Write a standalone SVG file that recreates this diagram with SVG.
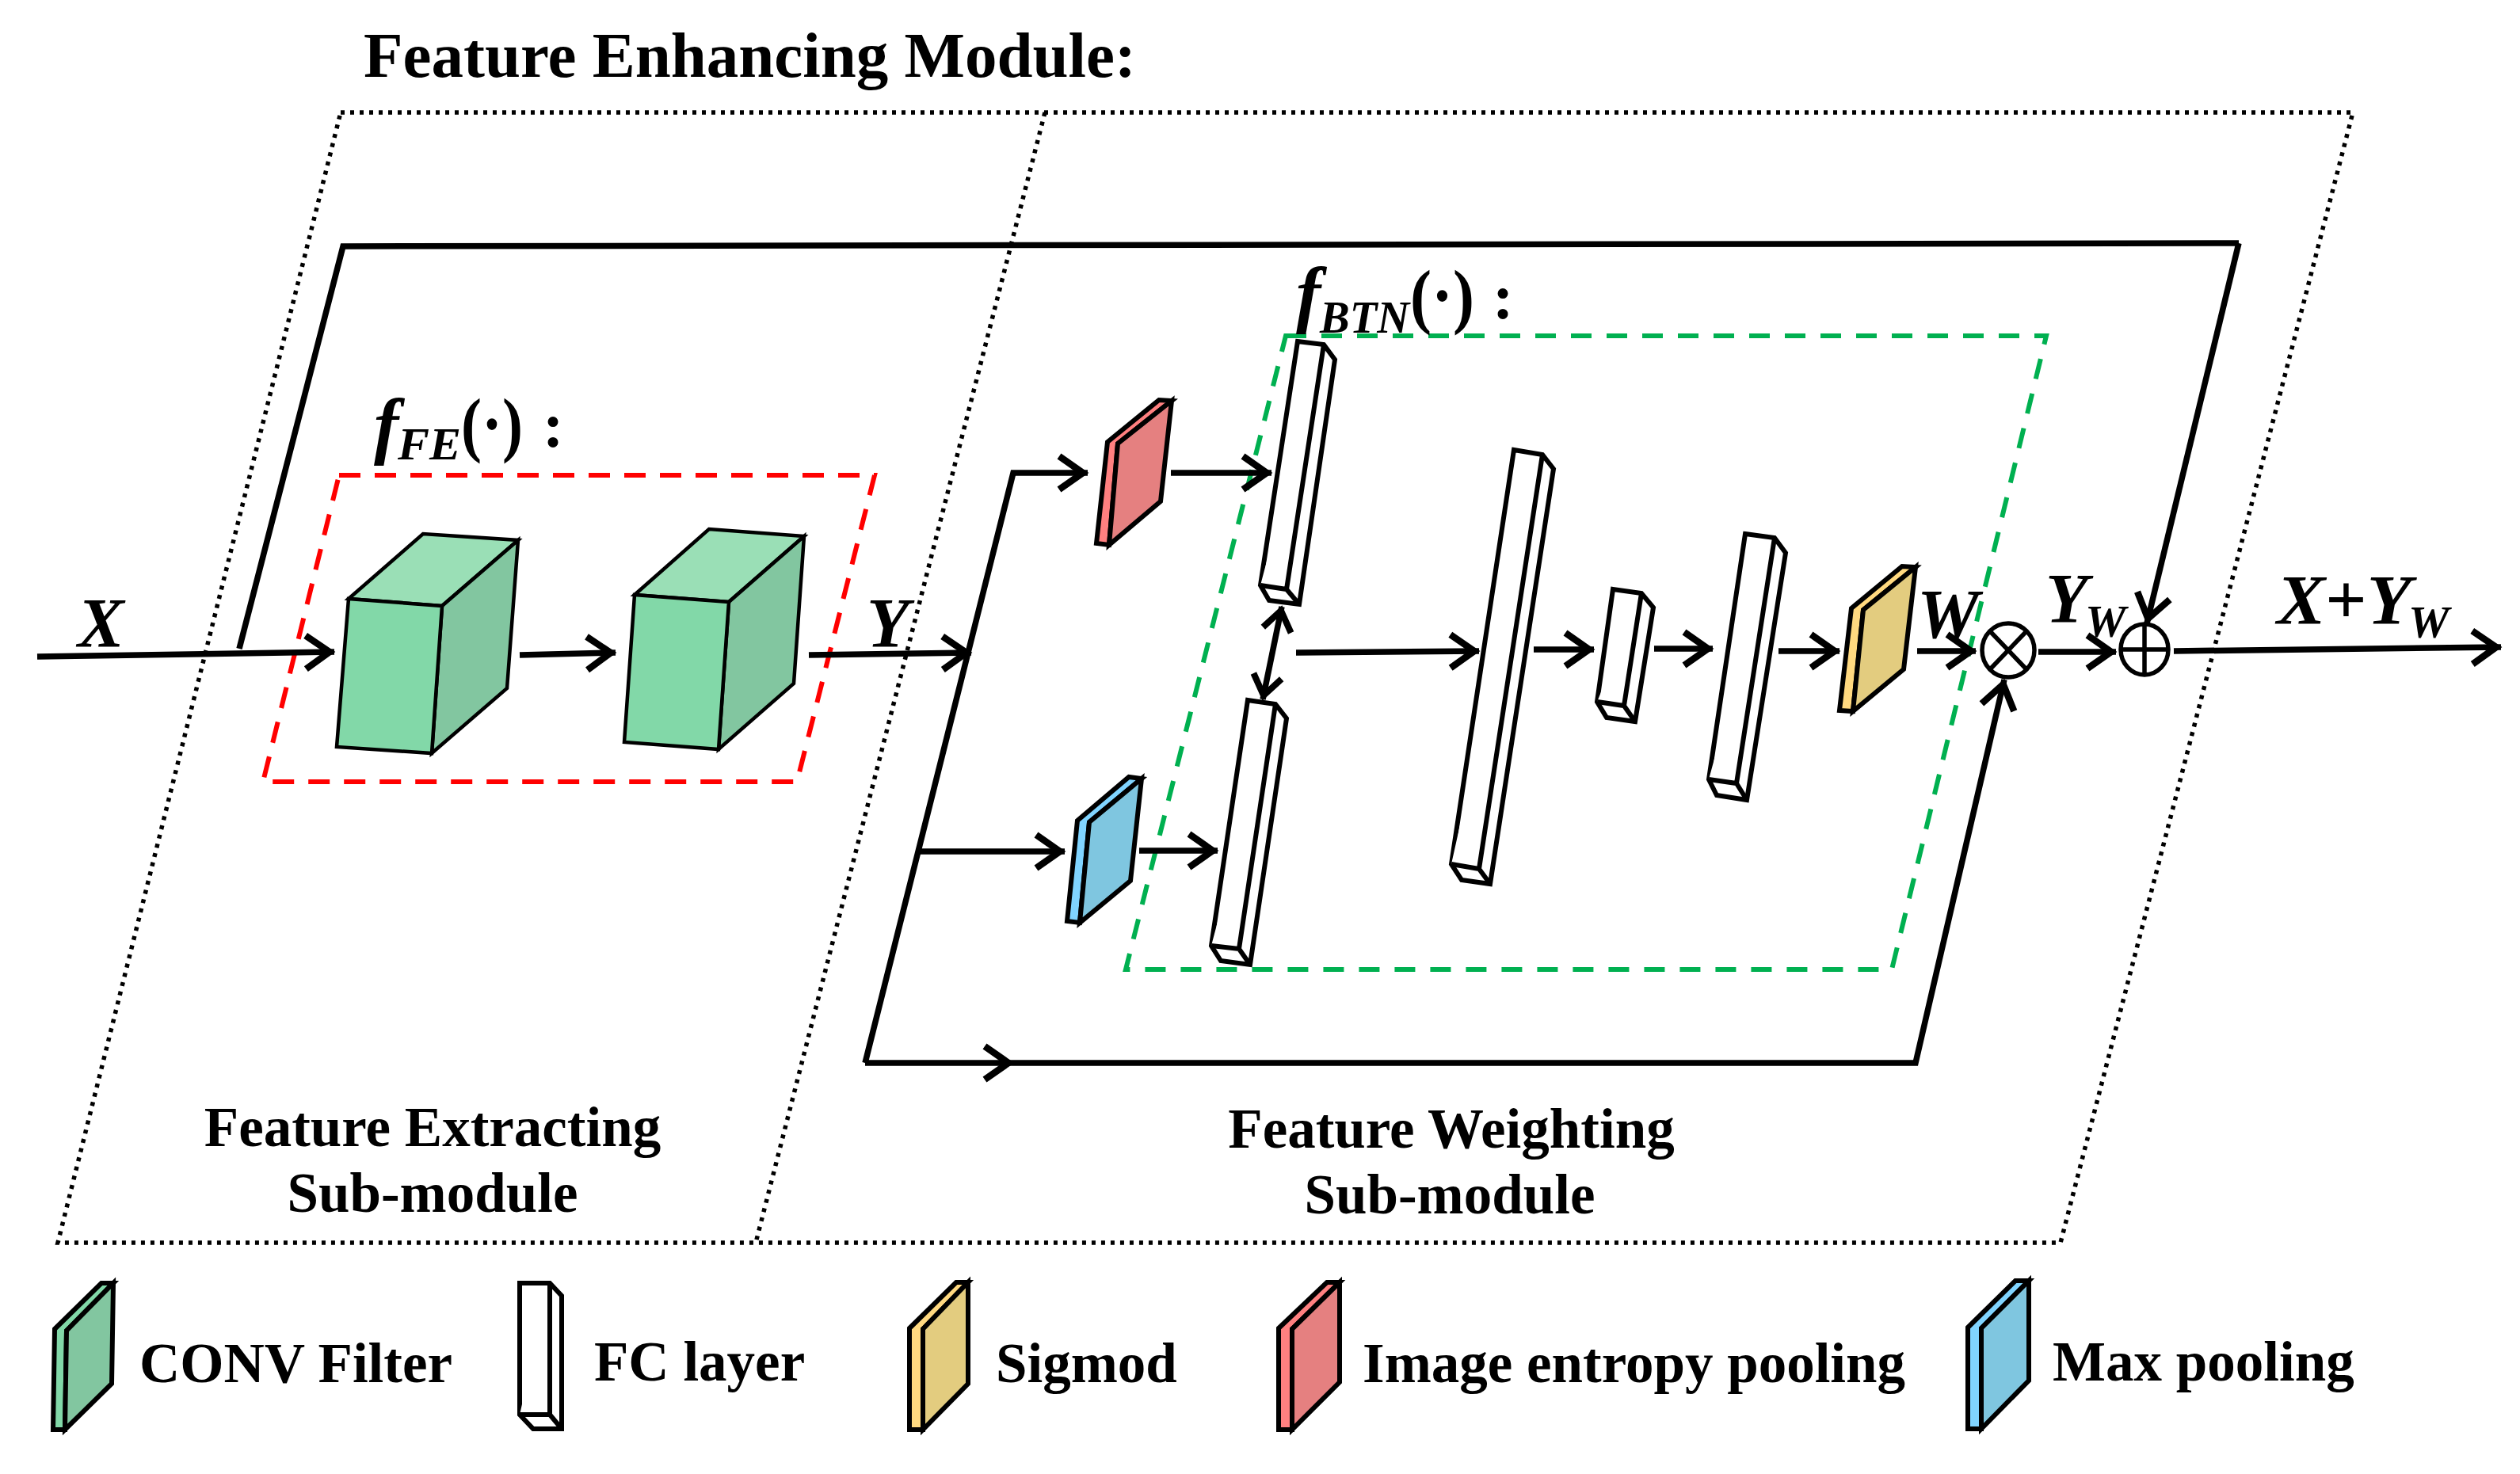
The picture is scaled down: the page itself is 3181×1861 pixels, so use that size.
<svg xmlns="http://www.w3.org/2000/svg" width="3181" height="1861" viewBox="0 0 3181 1861">
<style>
text{font-family:"Liberation Serif","Times New Roman",serif;font-weight:bold;fill:#000}
.i{font-style:italic}
.t{font-size:71px}
.m{font-size:88px}
.s{font-size:58px}
.dot{fill:none;stroke:#000;stroke-width:5.5;stroke-dasharray:5 7}
.red{fill:none;stroke:#f00;stroke-width:6;stroke-dasharray:27 18}
.grn{fill:none;stroke:#00b050;stroke-width:6;stroke-dasharray:26 19}
.ln{fill:none;stroke:#000;stroke-width:7.5}
.a{marker-end:url(#ah)}
.k{stroke:#000;stroke-width:4.5;stroke-linejoin:miter}
.p{stroke:#000;stroke-width:6;stroke-linejoin:miter}
.c{fill:none;stroke:#000;stroke-width:5.5}
.w{fill:#fff}
</style>
<defs>
<marker id="ah" markerUnits="userSpaceOnUse" markerWidth="60" markerHeight="60" refX="0" refY="0" orient="auto" viewBox="-50 -30 60 60" overflow="visible">
<path d="M-36,-21 L-6,0 L-36,21" fill="none" stroke="#000" stroke-width="8.5"/>
</marker>
<marker id="ahs" markerUnits="userSpaceOnUse" markerWidth="60" markerHeight="60" refX="0" refY="0" orient="auto-start-reverse" viewBox="-50 -30 60 60" overflow="visible">
<path d="M-30,-18 L-5,0 L-30,18" fill="none" stroke="#000" stroke-width="8"/>
</marker>
</defs>
<g id="frames">
<path class="dot" d="M430,142 L2970,142 L2601,1569 L73,1569 Z"/>
<path class="dot" d="M1319,142 L954,1569"/>
<path class="red" d="M428,600 L1104,600 L1006,987 L332,987 Z"/>
<path class="grn" d="M1623,424 L2583,424 L2388,1224 L1421,1224 Z"/>
</g>
<g id="connectors">
<path class="ln a" d="M47,829 L422,823"/>
<path class="ln" d="M302,819 L433,311 L2826,307"/>
<path class="ln a" d="M2826,307 L2710,787"/>
<path class="ln a" d="M656,827 L777,824"/>
<path class="ln a" d="M1021,827 L1226,824"/>
<path class="ln a" d="M1092,1342 L1279,597 L1373,597"/>
<path class="ln a" d="M1161,1075 L1344,1075"/>
<path class="ln a" d="M1092,1342 L1279,1342"/>
<path class="ln a" d="M1279,1342 L2418,1342 L2530,858"/>
<path class="ln a" d="M1478,597 L1605,597"/>
<path class="ln a" d="M1438,1074 L1537,1074"/>
<path class="ln" style="marker-start:url(#ahs);marker-end:url(#ahs)" d="M1618,766 L1594,883"/>
<path class="ln a" d="M1636,824 L1867,822"/>
<path class="ln a" d="M1936,820 L2012,820"/>
<path class="ln a" d="M2088,819 L2162,819"/>
<path class="ln a" d="M2245,822 L2322,822"/>
<path class="ln a" d="M2420,822 L2494,822"/>
<path class="ln a" d="M2573,823 L2671,823"/>
<path class="ln a" d="M2744,822 L3157,817"/>
</g>
<g id="fe-label">
<text class="i" font-size="94" x="472" y="568">f</text>
<text class="i s" x="502" y="580" textLength="80" lengthAdjust="spacingAndGlyphs">FE</text>
<text font-size="92" x="582" y="566" textLength="78" lengthAdjust="spacingAndGlyphs">(·)</text>
<text font-size="80" x="685" y="564">:</text>
</g>
<g id="btn-label">
<text class="i" font-size="94" x="1636" y="402">f</text>
<text class="i s" x="1666" y="420" textLength="113" lengthAdjust="spacingAndGlyphs">BTN</text>
<text font-size="92" x="1780" y="404" textLength="81" lengthAdjust="spacingAndGlyphs">(·)</text>
<text font-size="80" x="1884" y="402">:</text>
</g>
<g id="cube1">
<path class="k" fill="#9adfb6" d="M440,756 L534,674 L654,682 L558,765 Z"/>
<path class="k" fill="#82c6a0" d="M558,765 L654,682 L640,869 L545,951 Z"/>
<path class="k" fill="#82d8a8" d="M440,756 L558,765 L545,951 L425,943 Z"/>
</g>
<g id="cube2">
<path class="k" fill="#9adfb6" d="M801,751 L895,668 L1015,677 L920,760 Z"/>
<path class="k" fill="#82c6a0" d="M920,760 L1015,677 L1002,863 L907,946 Z"/>
<path class="k" fill="#82d8a8" d="M801,751 L920,760 L907,946 L788,937 Z"/>
</g>
<g id="pool-entropy">
<path class="p" fill="#ff8080" d="M1398,558 L1463,505 L1479,506 L1411,560 L1400,688 L1384,686 Z"/>
<path class="p" fill="#e58080" d="M1411,560 L1479,506 L1465,633 L1400,688 Z"/>
</g>
<g id="pool-max">
<path class="p" fill="#80d4ff" d="M1360,1036 L1425,981 L1441,983 L1375,1038 L1363,1165 L1347,1163 Z"/>
<path class="p" fill="#7fc6e0" d="M1375,1038 L1441,983 L1427,1112 L1363,1165 Z"/>
</g>
<g id="fc1">
<path class="p w" d="M1638,431 L1671,435 L1685,454 L1640,763 L1602,758 L1591,739 Z"/>
<path class="p w" d="M1671,435 L1624,744 L1591,739 M1624,744 L1640,763"/>
</g>
<g id="fc2">
<path class="p w" d="M1575,884 L1610,889 L1624,907 L1578,1218 L1541,1213 L1529,1194 Z"/>
<path class="p w" d="M1610,889 L1564,1198 L1529,1194 M1564,1198 L1578,1218"/>
</g>
<g id="fc3">
<path class="p w" d="M1911,568 L1947,574 L1961,592 L1881,1116 L1845,1111 L1832,1091 Z"/>
<path class="p w" d="M1947,574 L1867,1097 L1832,1091 M1867,1097 L1881,1116"/>
</g>
<g id="fc4">
<path class="p w" d="M2036,744 L2072,749 L2087,767 L2064,911 L2028,906 L2016,886 Z"/>
<path class="p w" d="M2072,749 L2050,891 L2016,886 M2050,891 L2064,911"/>
</g>
<g id="fc5">
<path class="p w" d="M2203,674 L2240,679 L2254,698 L2205,1010 L2167,1004 L2157,984 Z"/>
<path class="p w" d="M2240,679 L2192,989 L2157,984 M2192,989 L2205,1010"/>
</g>
<g id="sigmoid">
<path class="p" fill="#ffd980" d="M2337,768 L2401,715 L2418,716 L2352,770 L2339,898 L2322,897 Z"/>
<path class="p" fill="#e3cc7f" d="M2352,770 L2418,716 L2403,845 L2339,898 Z"/>
</g>
<g id="multiply">
<ellipse class="c" cx="2535" cy="821" rx="33" ry="34"/>
<path class="c" d="M2513,798 L2557,844 M2557,798 L2513,844"/>
</g>
<g id="add">
<ellipse class="c" cx="2707" cy="820" rx="30" ry="32"/>
<path class="c" d="M2677,820 L2737,820 M2707,788 L2707,852"/>
</g>
<g id="labels">
<text class="i m" x="98" y="816">X</text>
<text class="i m" x="1094" y="816">Y</text>
<text class="i m" x="2420" y="805">W</text>
<text class="i m" x="2582" y="785">Y</text>
<text class="i s" x="2632" y="804">W</text>
<text class="m" x="2874" y="787" textLength="170" lengthAdjust="spacingAndGlyphs"><tspan class="i">X</tspan>+<tspan class="i">Y</tspan></text>
<text class="i s" x="3040" y="805">W</text>
</g>
<text id="title" font-size="81" x="459" y="97">Feature Enhancing Module:</text>
<g id="extract-label">
<text class="t" text-anchor="middle" x="546" y="1447">Feature Extracting</text>
<text class="t" text-anchor="middle" x="546" y="1530">Sub-module</text>
</g>
<g id="weight-label">
<text class="t" text-anchor="middle" x="1832" y="1449">Feature Weighting</text>
<text class="t" text-anchor="middle" x="1830" y="1532">Sub-module</text>
</g>
<g id="legend-conv">
<path class="p" fill="#82d8a8" d="M69,1678 L128,1620 L143,1620 L84,1680 L82,1805 L67,1805 Z"/>
<path class="p" fill="#82c6a0" d="M84,1680 L143,1620 L141,1747 L82,1805 Z"/>
<text class="t" x="176" y="1745">CONV Filter</text>
</g>
<g id="legend-fc">
<path class="p w" d="M656,1620 L694,1620 L709,1636 L709,1804 L673,1804 L656,1786 Z"/>
<path class="p w" d="M694,1620 L694,1786 L656,1786 M694,1786 L709,1804"/>
<text class="t" x="750" y="1743">FC layer</text>
</g>
<g id="legend-sigmoid">
<path class="p" fill="#ffd980" d="M1148,1677 L1207,1619 L1222,1619 L1165,1678 L1165,1805 L1148,1805 Z"/>
<path class="p" fill="#e3cc7f" d="M1165,1678 L1222,1619 L1222,1747 L1165,1805 Z"/>
<text class="t" x="1257" y="1745">Sigmod</text>
</g>
<g id="legend-entropy">
<path class="p" fill="#ff8080" d="M1614,1677 L1675,1619 L1691,1619 L1631,1678 L1631,1805 L1614,1805 Z"/>
<path class="p" fill="#e58080" d="M1631,1678 L1691,1619 L1691,1745 L1631,1805 Z"/>
<text class="t" x="1720" y="1745">Image entropy pooling</text>
</g>
<g id="legend-max">
<path class="p" fill="#80d4ff" d="M2484,1676 L2544,1617 L2561,1617 L2501,1677 L2501,1804 L2484,1804 Z"/>
<path class="p" fill="#7fc6e0" d="M2501,1677 L2561,1617 L2561,1743 L2501,1804 Z"/>
<text class="t" x="2591" y="1743">Max pooling</text>
</g>
</svg>
